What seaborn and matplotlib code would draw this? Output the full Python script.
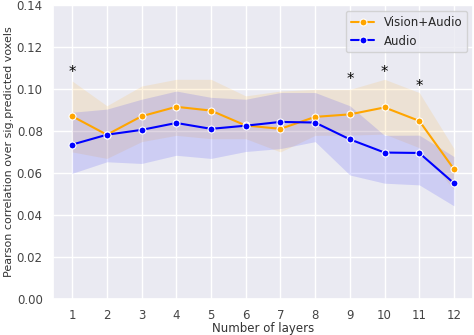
import matplotlib
matplotlib.use("Agg")
import matplotlib.pyplot as plt
import seaborn as sns
import pandas as pd

layers = list(range(1, 13))

va_mean = [0.0870, 0.0782, 0.0870, 0.0915, 0.0897, 0.0826, 0.0810, 0.0867, 0.0879, 0.0912, 0.0848, 0.0618]
va_low  = [0.0700, 0.0669, 0.0749, 0.0779, 0.0763, 0.0763, 0.0700, 0.0779, 0.0780, 0.0785, 0.0720, 0.0520]
va_high = [0.1038, 0.0920, 0.1014, 0.1046, 0.1046, 0.0967, 0.0990, 0.0998, 0.0998, 0.1046, 0.0983, 0.0716]

au_mean = [0.0735, 0.0782, 0.0805, 0.0838, 0.0810, 0.0825, 0.0843, 0.0840, 0.0760, 0.0697, 0.0695, 0.0551]
au_low  = [0.0598, 0.0653, 0.0645, 0.0684, 0.0669, 0.0702, 0.0716, 0.0749, 0.0590, 0.0551, 0.0543, 0.0443]
au_high = [0.0889, 0.0904, 0.0951, 0.0990, 0.0960, 0.0951, 0.0983, 0.0983, 0.0920, 0.0779, 0.0780, 0.0678]

star_layers = [1, 9, 10, 11]
star_heights = [0.1077, 0.1046, 0.1077, 0.1014]

yticks = [0.0, 0.02, 0.04, 0.06, 0.08, 0.10, 0.12, 0.14]

sns.set_theme(style="darkgrid")
fig, ax = plt.subplots(figsize=(4.74, 3.35), dpi=100)

df = pd.DataFrame({
    "layer": layers * 2,
    "corr": va_mean + au_mean,
    "model": ["Vision+Audio"] * 12 + ["Audio"] * 12,
})

palette = {"Vision+Audio": "orange", "Audio": "blue"}

ax.fill_between(layers, va_low, va_high, color="orange", alpha=0.12, linewidth=0)
ax.fill_between(layers, au_low, au_high, color="blue", alpha=0.12, linewidth=0)

sns.lineplot(data=df, x="layer", y="corr", hue="model", palette=palette,
             marker="o", markersize=5, markeredgecolor="white", markeredgewidth=0.8,
             linewidth=1.5, ax=ax)

for x, y in zip(star_layers, star_heights):
    ax.text(x, y, "*", ha="center", va="center", fontsize=10.5, color="black")

ax.set_ylim(0, 0.14)
ax.set_xticks(layers)
ax.set_yticks(yticks)
ax.set_yticklabels([f"{v:.2f}" for v in yticks])
ax.tick_params(labelsize=8.5, colors="#444444", pad=1.5)
ax.set_xlabel("Number of layers", fontsize=8.5, color="#333333", labelpad=0)
ax.set_ylabel("Pearson correlation over sig.predicted voxels", fontsize=8, color="#333333", labelpad=2)

ax.legend(loc="upper right", fontsize=8.5, title=None)

fig.subplots_adjust(left=0.112, right=0.998, top=0.985, bottom=0.108)
fig.savefig("out.png", dpi=100)
